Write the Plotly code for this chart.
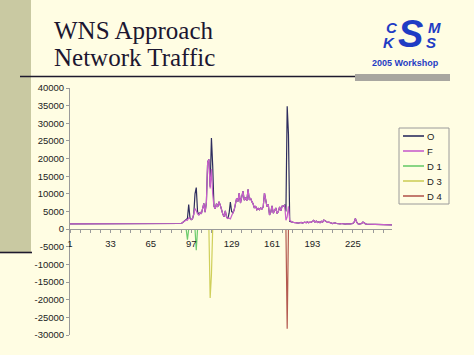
import plotly.graph_objects as go

# ---------------- data ----------------
categories = list(range(1, 257))
x_tick_labels = [1, 33, 65, 97, 129, 161, 193, 225]
y_tick_values = [40000, 35000, 30000, 25000, 20000, 15000, 10000, 5000, 0,
                 -5000, -10000, -15000, -20000, -25000, -30000]
series_names = ["O", "F", "D 1", "D 3", "D 4"]
series_colors = ["#2E2D5E", "#C95FCB", "#6CCB6C", "#CFCF5A", "#B45A50"]

# F series (categories 1..256)
f_values = [
    1500, 1500, 1500, 1500, 1500, 1500, 1500, 1500, 1500, 1500,
    1500, 1500, 1500, 1500, 1500, 1500, 1500, 1500, 1500, 1500,
    1500, 1500, 1500, 1500, 1500, 1500, 1500, 1500, 1500, 1500,
    1500, 1500, 1500, 1500, 1500, 1500, 1500, 1500, 1500, 1500,
    1500, 1500, 1500, 1500, 1500, 1500, 1500, 1500, 1500, 1500,
    1500, 1500, 1500, 1500, 1500, 1500, 1500, 1500, 1500, 1500,
    1500, 1500, 1500, 1500, 1500, 1500, 1500, 1500, 1500, 1500,
    1500, 1500, 1500, 1500, 1500, 1500, 1500, 1500, 1500, 1500,
    1500, 1500, 1500, 1500, 1500, 1500, 1500, 1500, 1600, 1800,   # 81-90
    2100, 2400, 2600, 2500, 3200, 3000, 2700, 2900, 4200, 5800,   # 91-100
    5200, 4300, 4000, 4800, 4300, 6200, 7300, 4800, 7500, 19000,  # 101-110
    19800, 11500, 17000, 10000, 6500, 5800, 7200, 6300, 7800, 6800,  # 111-120
    5300, 4300, 3500, 5200, 3400, 3000, 3100, 2900, 3800, 4600,   # 121-130
    5400, 7200, 8800, 7800, 10200, 7400, 9300, 10800, 8200, 9000,  # 131-140
    8000, 11300, 8300, 8800, 7800, 7200, 6000, 6500, 5500, 5900,  # 141-150
    5500, 6000, 5700, 6300, 10200, 7600, 6400, 7000, 4000, 4800,  # 151-160
    6600, 4500, 5300, 6000, 4400, 5000, 6300, 5200, 6500, 6500,   # 161-170
    6800, 2500, 3500, 6500, 2500, 2200, 2000, 1900, 1800, 1900,   # 171-180
    1800, 1700, 1800, 1900, 1700, 1800, 2000, 1800, 2100, 1800,   # 181-190
    2000, 1900, 2200, 2500, 2000, 2300, 1900, 2100, 1800, 2200,   # 191-200
    2000, 2600, 2400, 2000, 1900, 2000, 1800, 1700, 1600, 1700,   # 201-210
    1800, 1600, 1500, 1600, 1500, 1600, 1500, 1500, 1400, 1500,   # 211-220
    1400, 1500, 1500, 1500, 1600, 2000, 3000, 2000, 1500, 1400,   # 221-230
    1500, 1600, 2000, 1600, 1500, 1400, 1400, 1300, 1400, 1300,   # 231-240
    1300, 1300, 1200, 1300, 1200, 1200, 1200, 1200, 1200, 1200,   # 241-250
    1200, 1200, 1200, 1200, 1200, 1200,                           # 251-256
]

# O series: same as F except where it rises above it
o_peak_categories = [94, 95, 96, 100, 101, 102, 112, 113, 114, 127, 128, 129, 172, 173, 174, 175]
o_peak_values = [3000, 7000, 3200, 10000, 11800, 5000, 12000, 25800, 18000, 4500, 7700, 5000,
                 5000, 34800, 27000, 2200]

# D series: spikes below zero (blank elsewhere)
d1_categories = [93, 94, 95, None, 100, 101, 102]
d1_values = [0, -3000, 0, None, 0, -6000, 0]
d3_categories = [111, 112, 113, 114]
d3_values = [0, -19500, -13000, 0]
d4_categories = [172, 173, 174]
d4_values = [0, -28200, 0]

o_values = list(f_values)
for c, v in zip(o_peak_categories, o_peak_values):
    o_values[c - 1] = v

# ---------------- layout helpers ----------------
W, H = 474, 355
L, R, T, B = 70, 392, 88, 335
def px(x):
    return (x - L) / (R - L)
def py(y):
    return (B - y) / (B - T)

BG = "#FFFDE3"
FONT = "Liberation Sans"

fig = go.Figure()
series = [
    (categories, o_values),
    (categories, f_values),
    (d1_categories, d1_values),
    (d3_categories, d3_values),
    (d4_categories, d4_values),
]
for (xs, ys), name, color in zip(series, series_names, series_colors):
    fig.add_trace(go.Scatter(x=xs, y=ys, mode="lines", name=name,
                             line=dict(color=color, width=1.2), connectgaps=False,
                             showlegend=False))

shapes = [
    # left khaki stripe
    dict(type="rect", xref="paper", yref="paper", x0=px(0), x1=px(31), y0=py(252), y1=py(-5),
         fillcolor="#C9C9A2", line=dict(width=0), layer="below"),
    # dark rule under title
    dict(type="line", xref="paper", yref="paper", x0=px(20), x1=px(355), y0=py(76.5), y1=py(76.5),
         line=dict(color="#1E1A2E", width=1.6)),
    # dark rule at bottom of stripe
    dict(type="line", xref="paper", yref="paper", x0=px(0), x1=px(32), y0=py(252.5), y1=py(252.5),
         line=dict(color="#1E1A2E", width=1.6)),
    # gray bar
    dict(type="rect", xref="paper", yref="paper", x0=px(355), x1=px(450), y0=py(81), y1=py(74),
         fillcolor="#A8A6A0", line=dict(width=0)),
    # legend box
    dict(type="rect", xref="paper", yref="paper", x0=px(399), x1=px(449), y0=py(204), y1=py(128),
         fillcolor=BG, line=dict(color="#9A9A9A", width=1)),
]

BLUE = "#1F3CC4"
annotations = [
    dict(text="WNS Approach", x=px(52), y=py(31), xref="paper", yref="paper",
         xanchor="left", yanchor="middle", showarrow=False,
         font=dict(family="Liberation Serif", size=25, color="#1C1630")),
    dict(text="Network Traffic", x=px(52), y=py(57), xref="paper", yref="paper",
         xanchor="left", yanchor="middle", showarrow=False,
         font=dict(family="Liberation Serif", size=25, color="#1C1630")),
    dict(text="<b><i>C</i></b>", x=px(392), y=py(27.5), xref="paper", yref="paper",
         xanchor="center", yanchor="middle", showarrow=False,
         font=dict(family=FONT, size=15, color=BLUE)),
    dict(text="<b><i>S</i></b>", x=px(410), y=py(34), xref="paper", yref="paper",
         xanchor="center", yanchor="middle", showarrow=False,
         font=dict(family=FONT, size=38, color=BLUE)),
    dict(text="<b><i>M</i></b>", x=px(434), y=py(27.5), xref="paper", yref="paper",
         xanchor="center", yanchor="middle", showarrow=False,
         font=dict(family=FONT, size=15, color=BLUE)),
    dict(text="<b><i>K</i></b>", x=px(388.5), y=py(42.5), xref="paper", yref="paper",
         xanchor="center", yanchor="middle", showarrow=False,
         font=dict(family=FONT, size=15, color=BLUE)),
    dict(text="<b><i>S</i></b>", x=px(431), y=py(42.5), xref="paper", yref="paper",
         xanchor="center", yanchor="middle", showarrow=False,
         font=dict(family=FONT, size=15, color=BLUE)),
    dict(text="<b>2005 Workshop</b>", x=px(405), y=py(63), xref="paper", yref="paper",
         xanchor="center", yanchor="middle", showarrow=False,
         font=dict(family=FONT, size=9, color=BLUE)),
]

# legend entries (compact, like the original)
for i, (name, color) in enumerate(zip(series_names, series_colors)):
    yy = 136 + 15 * i
    shapes.append(dict(type="line", xref="paper", yref="paper",
                       x0=px(403), x1=px(424), y0=py(yy), y1=py(yy),
                       line=dict(color=color, width=1.6)))
    annotations.append(dict(text=name, x=px(425.5), y=py(yy), xref="paper", yref="paper",
                            xanchor="left", yanchor="middle", showarrow=False,
                            font=dict(family=FONT, size=9.5, color="#222222")))

fig.update_layout(
    width=W, height=H,
    margin=dict(l=L, r=W - R, t=T, b=H - B, pad=0),
    paper_bgcolor=BG, plot_bgcolor=BG,
    font=dict(family=FONT, size=9, color="#222222"),
    shapes=shapes, annotations=annotations,
    showlegend=False,
    xaxis=dict(range=[1, 256], anchor="free", position=3 / 7,
               tickmode="array", tickvals=x_tick_labels, ticktext=[str(v) for v in x_tick_labels],
               ticks="outside", ticklen=3, tickcolor="#9A9A9A",
               minor=dict(tickmode="linear", tick0=1, dtick=8, ticks="outside", ticklen=3,
                          tickcolor="#9A9A9A", showgrid=False),
               showline=True, linecolor="#9A9A9A", linewidth=1,
               showgrid=False, zeroline=False, ticklabelstandoff=2,
               tickfont=dict(family=FONT, size=9.5, color="#222222")),
    yaxis=dict(range=[-30000, 40000], domain=[0, 1],
               tickmode="array", tickvals=y_tick_values, ticktext=[str(v) for v in y_tick_values],
               ticks="outside", ticklen=3, tickcolor="#9A9A9A",
               showline=True, linecolor="#9A9A9A", linewidth=1,
               showgrid=False, zeroline=False,
               tickfont=dict(family=FONT, size=9.5, color="#222222")),
)

fig.write_html("out.html")
